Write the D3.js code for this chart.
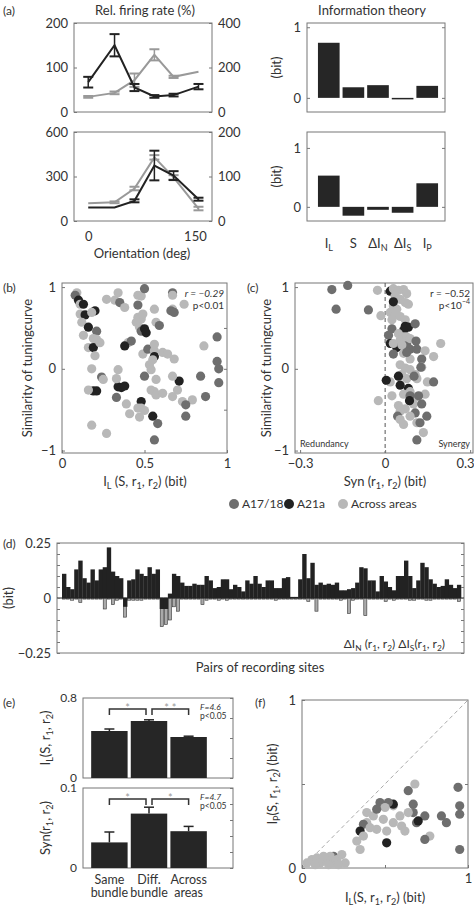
<!DOCTYPE html>
<html><head><meta charset="utf-8">
<script src="https://cdn.jsdelivr.net/npm/d3@7"></script>
<style>body{margin:0;background:#fff}svg{font-family:Lato,"Open Sans",sans-serif}</style>
</head><body><svg id="c" width="474" height="907"></svg>
<script>
// ---------- DATA ----------
const orient=[0,37,65,93,120,155];
const aTopBlack=[67,150,55,35,38,57], aTopBlackErr=[12,25,8,3,3,6];
const aTopGray=[68,86,143,257,158,181], aTopGrayErr=[4,6,30,25,5,0];
const aBotBlack=[91,91,136,374,306,147], aBotBlackErr=[0,0,10,100,30,10];
const aBotGray=[40,42,73,143,98,28], aBotGrayErr=[0,2,4,5,5,4];
const infoCats=["I_{L}","S","ΔI_{N}","ΔI_{S}","I_{P}"];
const infoTop=[0.78,0.15,0.18,-0.02,0.17];
const infoBot=[0.53,-0.15,-0.05,-0.10,0.40];
const groups=["A17/18","A21a","Across areas"];
const groupColors=["#6e6e6e","#222","#b8b8b8"];
// [x,y,group] 0=A17/18 1=A21a 2=Across
const ptsB=[[0.09,0.93,2],[0.08,0.90,0],[0.10,0.84,1],[0.11,0.79,2],[0.13,0.79,1],[0.11,0.67,2],[0.14,0.66,1],[0.12,0.57,2],[0.16,0.51,1],[0.21,0.46,0],[0.20,0.71,1],[0.13,0.41,2],[0.19,0.37,2],[0.21,0.36,2],[0.16,0.26,2],[0.19,0.26,1],[0.23,0.32,2],[0.20,0.16,2],[0.18,0.0,2],[0.24,-0.10,0],[0.25,-0.13,2],[0.19,-0.27,1],[0.21,-0.27,1],[0.27,0.85,2],[0.32,0.84,2],[0.34,0.93,2],[0.35,0.81,0],[0.38,0.75,2],[0.34,-0.22,1],[0.36,-0.23,1],[0.38,-0.21,1],[0.33,-0.35,0],[0.33,-0.12,2],[0.34,-0.01,2],[0.40,0.32,2],[0.42,0.34,0],[0.38,0.28,1],[0.39,-0.43,2],[0.41,-0.55,2],[0.46,0.78,0],[0.46,0.90,2],[0.48,0.89,2],[0.50,0.98,0],[0.46,0.63,2],[0.48,0.61,2],[0.45,0.57,2],[0.49,0.67,2],[0.47,0.51,2],[0.48,0.46,0],[0.50,0.49,1],[0.51,0.44,1],[0.56,0.73,2],[0.57,0.57,2],[0.59,0.53,0],[0.49,0.18,2],[0.52,0.24,0],[0.56,0.22,2],[0.56,0.15,1],[0.55,0.11,2],[0.53,0.05,2],[0.54,-0.01,2],[0.50,-0.09,0],[0.57,-0.13,2],[0.54,-0.26,2],[0.56,-0.28,2],[0.48,-0.40,1],[0.46,-0.48,2],[0.48,-0.48,2],[0.50,-0.51,2],[0.47,-0.59,2],[0.55,-0.58,1],[0.58,-0.67,0],[0.56,-0.87,0],[0.56,0.30,2],[0.61,0.20,2],[0.64,0.18,2],[0.68,0.12,2],[0.67,0.73,2],[0.66,0.71,0],[0.68,0.69,0],[0.67,0.93,0],[0.67,0.90,2],[0.74,0.79,2],[0.57,-0.32,2],[0.61,-0.30,2],[0.67,-0.34,2],[0.70,-0.26,2],[0.71,-0.15,1],[0.67,-0.09,2],[0.73,-0.40,2],[0.79,-0.38,2],[0.75,-0.44,0],[0.75,-0.58,0],[0.84,-0.09,0],[0.87,-0.34,0],[0.86,0.28,2],[0.94,0.39,0],[0.94,0.09,0],[0.95,0.0,0],[0.95,-0.17,0],[0.18,-0.69,2],[0.27,-0.79,2],[0.16,-0.26,2],[0.18,0.69,2]];
const ptsC=[[-0.188,0.97,0],[-0.132,1.02,0],[-0.173,0.73,0],[-0.059,0.72,0],[-0.027,0.96,2],[-0.015,0.65,2],[0.018,0.95,1],[0.029,0.98,2],[0.047,0.96,2],[0.065,0.97,2],[0.076,0.92,2],[0.035,0.89,2],[0.053,0.85,2],[0.071,0.81,2],[0.082,0.79,2],[0.029,0.77,2],[0.041,0.73,2],[0.018,0.69,2],[0.035,0.66,2],[0.053,0.64,2],[0.024,0.60,2],[0.071,0.60,2],[0.029,0.82,1],[0.071,0.52,1],[0.082,0.51,1],[0.065,0.47,1],[0.106,0.55,0],[0.024,0.49,0],[0.012,0.41,0],[0.076,0.31,0],[0.047,0.43,2],[0.065,0.39,2],[0.053,0.35,2],[0.076,0.39,2],[0.088,0.37,2],[0.018,0.31,1],[0.041,0.26,1],[0.109,0.34,0],[0.088,0.24,0],[0.112,0.24,0],[0.029,0.31,2],[0.059,0.29,2],[0.141,0.22,2],[0.196,0.31,2],[0.171,0.15,2],[0.065,0.19,2],[0.088,0.12,2],[0.076,0.20,0],[0.129,0.12,0],[0.029,0.18,0],[0.053,0.05,2],[0.071,0.01,2],[0.088,-0.01,2],[0.106,-0.07,2],[0.076,-0.12,2],[0.112,-0.12,2],[0.059,-0.07,2],[0.149,-0.16,2],[0.018,-0.16,2],[0.129,0.02,2],[0.126,0.02,0],[0.102,-0.09,0],[0.171,-0.16,0],[0.004,-0.14,1],[0.047,-0.09,1],[0.053,-0.20,1],[0.082,-0.24,1],[0.088,-0.28,2],[0.065,-0.31,2],[0.106,-0.35,2],[0.024,-0.33,2],[0.141,-0.31,2],[-0.024,-0.39,2],[0.047,-0.45,2],[0.071,-0.49,2],[0.1,-0.43,2],[0.053,-0.52,2],[0.088,-0.33,0],[0.118,-0.33,0],[0.129,-0.43,0],[0.044,-0.58,0],[0.147,-0.58,0],[0.106,-0.54,0],[0.086,-0.39,1],[0.053,-0.62,2],[0.065,-0.68,2],[0.088,-0.58,2],[0.135,-0.78,2],[0.112,-0.66,2],[0.112,-0.87,0],[0.123,-0.66,0]];
const ptsF=[[0.64,0.46,0],[0.68,0.50,2],[0.94,0.48,0],[0.95,0.37,0],[0.95,0.32,0],[0.95,0.11,0],[0.84,0.31,0],[0.87,0.27,0],[0.74,0.31,0],[0.69,0.27,0],[0.77,0.19,2],[0.74,0.17,0],[0.67,0.38,0],[0.67,0.33,0],[0.70,0.28,1],[0.64,0.33,2],[0.55,0.37,2],[0.55,0.38,1],[0.52,0.39,0],[0.47,0.39,0],[0.50,0.36,2],[0.59,0.31,2],[0.60,0.25,2],[0.62,0.22,2],[0.55,0.27,2],[0.49,0.29,2],[0.43,0.31,2],[0.39,0.27,2],[0.37,0.26,0],[0.35,0.22,1],[0.41,0.24,2],[0.45,0.23,2],[0.51,0.22,2],[0.51,0.15,1],[0.37,0.19,2],[0.33,0.16,2],[0.39,0.33,2],[0.45,0.35,0],[0.35,0.11,2],[0.10,0.05,0],[0.19,0.07,0],[0.19,0.05,1],[0.03,0.03,2],[0.06,0.05,2],[0.09,0.06,2],[0.11,0.03,2],[0.14,0.05,2],[0.17,0.07,2],[0.19,0.03,2],[0.21,0.05,2],[0.24,0.08,2],[0.26,0.03,2],[0.08,0.02,2],[0.16,0.02,2],[0.13,0.07,2],[0.22,0.02,2]];
const dIN=[0.11,0.05,0.04,0.13,0.17,0.09,0.07,0.13,0.08,0.13,0.14,0.23,0.12,0.10,0.09,-0.04,0.08,0.085,0.13,0.11,0.10,0.14,0.11,0.13,-0.05,-0.05,0.02,0.11,0.10,0.07,0.055,0.055,0.065,0.06,0.06,0.10,0.08,0.045,0.05,0.085,0.085,0.04,0.06,0.05,0.03,0.08,0.065,0.10,0.065,0.05,0.08,0.08,0.045,0.045,0.09,0.095,0.005,0.005,0.085,0.20,0.09,0.16,0.06,0.07,0.06,0.065,0.06,0.07,0.035,0.035,0.04,0.045,0.07,0.14,0.135,0.08,0.08,0.03,0.10,0.075,0.05,0.035,0.10,0.10,0.17,0.10,0.045,0.08,0.16,0.14,0.085,0.065,0.05,0.055,0.085,0.06,0.045,0.06];
const dIS=[-0.005,-0.005,-0.01,-0.005,-0.02,-0.005,-0.005,-0.005,-0.005,-0.005,-0.05,-0.005,-0.03,-0.01,-0.005,-0.087,-0.01,-0.01,-0.01,-0.01,-0.005,-0.005,-0.005,-0.005,-0.13,-0.12,-0.10,-0.04,-0.06,-0.005,-0.005,-0.005,-0.005,-0.005,-0.03,-0.01,-0.005,-0.005,-0.01,-0.005,-0.01,-0.005,-0.005,-0.005,-0.005,-0.005,-0.005,-0.005,-0.005,-0.005,-0.005,-0.005,-0.01,-0.005,-0.005,-0.005,-0.005,-0.005,-0.005,-0.005,-0.015,-0.005,-0.06,-0.005,-0.005,-0.005,-0.005,-0.005,-0.01,-0.005,-0.07,-0.01,-0.005,-0.005,-0.08,-0.005,-0.005,-0.005,-0.005,-0.015,-0.005,-0.01,-0.005,-0.005,-0.005,-0.01,-0.01,-0.005,-0.005,-0.01,-0.01,-0.005,-0.005,-0.005,-0.005,-0.005,-0.005,-0.015];
const eCats=[["Same","bundle"],["Diff.","bundle"],["Across","areas"]];
const eIL=[0.47,0.57,0.41], eILErr=[0.02,0.012,0.008];
const eSyn=[0.032,0.068,0.046], eSynErr=[0.013,0.008,0.006];

// ---------- HELPERS ----------
const svg=d3.select("#c");
const C="#333", AX="#777";
function rich(g,x,y,str,opt={}){
  const t=g.append("text").attr("x",x).attr("y",y).attr("font-size",opt.size||12).attr("fill",opt.fill||C)
   .attr("text-anchor",opt.anchor||"start");
  if(opt.rotate!==undefined) t.attr("transform",`rotate(${opt.rotate},${x},${y})`);
  const parts=str.split(/(_\{[^}]*\}|\^\{[^}]*\})/);
  let shift=0;
  parts.forEach(p=>{ if(!p) return;
    if(p.startsWith("_{")){t.append("tspan").attr("dy",3-shift).attr("font-size",(opt.size||12)*0.7).text(p.slice(2,-1));shift=3;}
    else if(p.startsWith("^{")){t.append("tspan").attr("dy",-5-shift).attr("font-size",(opt.size||12)*0.7).text(p.slice(2,-1));shift=-5;}
    else {t.append("tspan").attr("dy",-shift).text(p);shift=0;}
  });
  return t;
}
function box(x0,x1,y0,y1){svg.append("rect").attr("x",x0).attr("y",y0).attr("width",x1-x0).attr("height",y1-y0).attr("fill","none").attr("stroke",AX).attr("stroke-width",1);}
function yAxis(scale,x,ticks,labels,side="left",fs=13,tickLen=3){
  const ax=(side==="left"?d3.axisLeft(scale):d3.axisRight(scale)).tickValues(ticks).tickSize(-tickLen).tickPadding(6).tickFormat((d,i)=>labels?labels[i]:d);
  const g=svg.append("g").attr("transform",`translate(${x},0)`).call(ax);
  g.select(".domain").remove();g.selectAll("line").attr("stroke",AX);
  g.selectAll("text").attr("font-size",fs).attr("fill",C).attr("font-family","Lato");return g;
}
function xAxis(scale,y,ticks,labels,fs=13,tickLen=3){
  const g=svg.append("g").attr("transform",`translate(0,${y})`).call(d3.axisBottom(scale).tickValues(ticks).tickSize(-tickLen).tickPadding(6).tickFormat((d,i)=>labels?labels[i]:d));
  g.select(".domain").remove();g.selectAll("line").attr("stroke",AX);
  g.selectAll("text").attr("font-size",fs).attr("fill",C).attr("font-family","Lato");return g;
}
function tuning(xs,ys,vals,errs,color){
  const line=d3.line().x((d,i)=>xs(orient[i])).y(d=>ys(d));
  svg.append("path").datum(vals).attr("d",line).attr("fill","none").attr("stroke",color).attr("stroke-width",2);
  vals.forEach((v,i)=>{ if(!errs[i]) return;
    const x=xs(orient[i]);
    svg.append("line").attr("x1",x).attr("x2",x).attr("y1",ys(v-errs[i])).attr("y2",ys(v+errs[i])).attr("stroke",color).attr("stroke-width",1.5);
    [v-errs[i],v+errs[i]].forEach(e=>svg.append("line").attr("x1",x-5).attr("x2",x+5).attr("y1",ys(e)).attr("y2",ys(e)).attr("stroke",color).attr("stroke-width",2));
  });
}
function dots(pts,xs,ys,r=4.6){
  svg.append("g").selectAll("circle").data(pts).join("circle").attr("cx",d=>xs(d[0])).attr("cy",d=>ys(d[1])).attr("r",r).attr("fill",d=>groupColors[d[2]]);
}

// ---------- PANEL A ----------
rich(svg,3,15,"(a)",{size:12});
rich(svg,145,15,"Rel. firing rate (%)",{size:13,anchor:"middle"});
const ax0=74,ax1=212;
const xo=d3.scaleLinear().domain([-20,174]).range([ax0,ax1]);
let yl=d3.scaleLinear().domain([0,200]).range([112,23]);
let yr=d3.scaleLinear().domain([0,400]).range([112,23]);
box(ax0,ax1,23,112);
yAxis(yl,ax0,[0,100,200]);yAxis(yr,ax1,[0,200,400],null,"right");
tuning(xo,yr,aTopGray,aTopGrayErr,"#999");
tuning(xo,yl,aTopBlack,aTopBlackErr,"#222");
yl=d3.scaleLinear().domain([0,600]).range([221,132]);
yr=d3.scaleLinear().domain([0,200]).range([221,132]);
box(ax0,ax1,132,221);
yAxis(yl,ax0,[0,300,600]);yAxis(yr,ax1,[0,100,200],null,"right");
tuning(xo,yr,aBotGray,aBotGrayErr,"#999");
tuning(xo,yl,aBotBlack,aBotBlackErr,"#222");
xAxis(xo,221,[0,150],null,13,0).selectAll("text").attr("dy","1.1em");
rich(svg,142,258,"Orientation (deg)",{size:13,anchor:"middle"});

rich(svg,372,15,"Information theory",{size:13,anchor:"middle"});
const ix0=307,ix1=445;
const xb=d3.scaleBand().domain(infoCats).range([ix0+8,ix1-4]).padding(0.12);
function infoBars(vals,y0,y1,dom){
  const ys=d3.scaleLinear().domain(dom).range([y1,y0]);
  box(ix0,ix1,y0,y1);
  yAxis(ys,ix0,[0,1],null,"left",13);
  svg.append("g").attr("transform",`translate(${ix1},0)`).call(d3.axisLeft(ys).tickValues([0,1]).tickSize(3).tickFormat("")).call(g=>{g.select(".domain").remove();g.selectAll("line").attr("stroke",AX);});
  svg.append("g").selectAll("rect").data(vals).join("rect").attr("x",(d,i)=>xb(infoCats[i])).attr("width",xb.bandwidth())
    .attr("y",d=>ys(Math.max(0,d))).attr("height",d=>Math.max(1.5,Math.abs(ys(d)-ys(0)))).attr("fill","#262626");
  rich(svg,281,(y0+y1)/2,"(bit)",{size:13,anchor:"middle",rotate:-90});
}
infoBars(infoTop,23,112,[-0.2,1.06]);
infoBars(infoBot,132,221,[-0.24,1.27]);
infoCats.forEach(c=>rich(svg,xb(c)+xb.bandwidth()/2,248,c,{size:13,anchor:"middle"}));

// ---------- PANEL B ----------
rich(svg,3,292,"(b)",{size:12});
const bx=d3.scaleLinear().domain([0,1]).range([62,227]);
const by=d3.scaleLinear().domain([-1.03,1.05]).range([453,283]);
box(62,227,283,453);
dots(ptsB,bx,by);
yAxis(by,62,[-1,0,1],["−1","0","1"]);
svg.append("g").attr("transform","translate(227,0)").call(d3.axisLeft(by).tickValues([-0.5,0,0.5]).tickSize(3).tickFormat("")).call(g=>{g.select(".domain").remove();g.selectAll("line").attr("stroke",AX);});
xAxis(bx,453,[0,0.5,1]);
rich(svg,145,486,"I_{L} (S, r_{1}, r_{2}) (bit)",{size:13,anchor:"middle"});
rich(svg,32,368,"Similarity of tuningcurve",{size:13,anchor:"middle",rotate:-90});
rich(svg,224,297,"r = −0.29",{size:10,anchor:"end"}).attr("font-style","italic");
rich(svg,224,309,"p<0.01",{size:10,anchor:"end"});

// ---------- PANEL C ----------
rich(svg,247,292,"(c)",{size:12});
const cx=d3.scaleLinear().domain([-0.318,0.31]).range([295,473]);
const cy=d3.scaleLinear().domain([-1.03,1.05]).range([453,283]);
box(295,473,283,453);
svg.append("line").attr("x1",cx(0)).attr("x2",cx(0)).attr("y1",283).attr("y2",453).attr("stroke","#555").attr("stroke-dasharray","4,3");
dots(ptsC,cx,cy);
yAxis(cy,295,[-1,0,1],["−1","0","1"]);
const cxa=xAxis(cx,453,[-0.3,0,0.3],["−0.3","0","0.3"]);
cxa.selectAll(".tick").filter(d=>d===0.3).select("text").attr("text-anchor","end").attr("x",4);
rich(svg,385,486,"Syn (r_{1}, r_{2}) (bit)",{size:13,anchor:"middle"});
rich(svg,271,368,"Similarity of tuningcurve",{size:13,anchor:"middle",rotate:-90});
rich(svg,470,297,"r = −0.52",{size:10,anchor:"end"});
rich(svg,470,309,"p<10^{−4}",{size:10,anchor:"end"});
rich(svg,300,447,"Redundancy",{size:9});
rich(svg,470,447,"Synergy",{size:9,anchor:"end"});
const legX=[234,289,343];
groups.forEach((g,i)=>{svg.append("circle").attr("cx",legX[i]).attr("cy",504).attr("r",5).attr("fill",groupColors[i]);
  rich(svg,legX[i]+8,508,g,{size:12});});

// ---------- PANEL D ----------
const dx=d3.scaleBand().domain(d3.range(dIN.length)).range([62,461]).padding(0);
const dy=d3.scaleLinear().domain([-0.25,0.25]).range([653,543]);
box(57,464,543,653);
svg.append("g").selectAll("rect").data(dIS).join("rect").attr("x",(d,i)=>dx(i)+0.5).attr("width",dx.bandwidth()-1)
  .attr("y",dy(0)).attr("height",d=>dy(d)-dy(0)).attr("fill","#aaa").attr("stroke","#333").attr("stroke-width",0.6);
svg.append("g").selectAll("rect").data(dIN).join("rect").attr("x",(d,i)=>dx(i)).attr("width",dx.bandwidth()+0.3)
  .attr("y",d=>dy(Math.max(0,d))).attr("height",d=>Math.abs(dy(d)-dy(0))).attr("fill","#222");
svg.append("line").attr("x1",57).attr("x2",464).attr("y1",dy(0)).attr("y2",dy(0)).attr("stroke","#222");
yAxis(dy,57,[-0.25,0,0.25],["−0.25","0","0.25"]);
svg.append("g").attr("transform","translate(57,0)").call(d3.axisRight(dy).ticks(10).tickSize(3).tickFormat("")).call(g=>{g.select(".domain").remove();g.selectAll("line").attr("stroke",AX);});
svg.append("g").attr("transform","translate(464,0)").call(d3.axisLeft(dy).ticks(10).tickSize(3).tickFormat("")).call(g=>{g.select(".domain").remove();g.selectAll("line").attr("stroke",AX);});
rich(svg,3,548,"(d)",{size:12});
rich(svg,13,598,"(bit)",{size:13,anchor:"middle",rotate:-90});
rich(svg,445,648,"ΔI_{N} (r_{1}, r_{2}) ΔI_{S}(r_{1}, r_{2})",{size:12,anchor:"end"});
rich(svg,260,672,"Pairs of recording sites",{size:13,anchor:"middle"});

// ---------- PANEL E ----------
rich(svg,3,707,"(e)",{size:12});
const ex=d3.scaleBand().domain([0,1,2]).range([88,210]).padding(0.08);
function eBars(vals,errs,y0,y1,max,ticksL,ylab,stars,ann){
  const ys=d3.scaleLinear().domain([0,max]).range([y1,y0]);
  box(83,233,y0,y1);
  yAxis(ys,83,[0,max],ticksL,"left",12,0);
  svg.append("g").attr("transform","translate(233,0)").call(d3.axisLeft(ys).ticks(4).tickSize(3).tickFormat("")).call(g=>{g.select(".domain").remove();g.selectAll("line").attr("stroke",AX);});
  vals.forEach((v,i)=>{const x=ex(i),w=ex.bandwidth();
    svg.append("rect").attr("x",x).attr("width",w).attr("y",ys(v)).attr("height",ys(0)-ys(v)).attr("fill","#262626");
    const c=x+w/2;
    svg.append("line").attr("x1",c).attr("x2",c).attr("y1",ys(v)).attr("y2",ys(v+errs[i])).attr("stroke","#262626").attr("stroke-width",1.5);
    svg.append("line").attr("x1",c-5).attr("x2",c+5).attr("y1",ys(v+errs[i])).attr("y2",ys(v+errs[i])).attr("stroke","#262626").attr("stroke-width",1.5);
  });
  const by0=y0+11;
  [[0,1],[1,2]].forEach((p,k)=>{
    const a=ex(p[0])+ex.bandwidth()/2+(k?3:0), b=ex(p[1])+ex.bandwidth()/2-(k?0:3);
    svg.append("path").attr("d",`M${a},${by0+6}V${by0}H${b}V${by0+6}`).attr("fill","none").attr("stroke","#333").attr("stroke-width",1.5);
    rich(svg,(a+b)/2,by0+3,stars[k],{size:11,anchor:"middle",fill:"#999"});
  });
  rich(svg,200,y0+12,ann[0],{size:8.5}).attr("font-style","italic");
  rich(svg,200,y0+21,ann[1],{size:8.5});
  rich(svg,50,(y0+y1)/2,ylab,{size:13,anchor:"middle",rotate:-90});
}
eBars(eIL,eILErr,698,778,0.8,["0","0.8"],"I_{L}(S, r_{1}, r_{2})",["*","* *"],["F=4.6","p<0.05"]);
eBars(eSyn,eSynErr,788,868,0.1,["0","0.1"],"Syn(r_{1}, r_{2})",["*","*"],["F=4.7","p<0.05"]);
eCats.forEach((c,i)=>{const x=ex(i)+ex.bandwidth()/2;rich(svg,x,884,c[0],{size:12.5,anchor:"middle"});rich(svg,x,897,c[1],{size:12.5,anchor:"middle"});});

// ---------- PANEL F ----------
rich(svg,255,707,"(f)",{size:12});
const fx=d3.scaleLinear().domain([0,1]).range([302,468]);
const fy=d3.scaleLinear().domain([0,1]).range([868,700]);
box(302,468,700,868);
svg.append("line").attr("x1",fx(0)).attr("y1",fy(0)).attr("x2",fx(1)).attr("y2",fy(1)).attr("stroke","#aaa").attr("stroke-dasharray","4,3");
dots(ptsF,fx,fy);
yAxis(fy,302,[0,0.5,1],["0","","1"]);
xAxis(fx,868,[0,0.5,1],["0","","1"]);
svg.append("g").attr("transform","translate(468,0)").call(d3.axisLeft(fy).tickValues([0.5]).tickSize(3).tickFormat("")).call(g=>{g.select(".domain").remove();g.selectAll("line").attr("stroke",AX);});
rich(svg,385,902,"I_{L}(S, r_{1}, r_{2}) (bit)",{size:13,anchor:"middle"});
rich(svg,277,784,"I_{P}(S, r_{1}, r_{2}) (bit)",{size:13,anchor:"middle",rotate:-90});
</script></body></html>
